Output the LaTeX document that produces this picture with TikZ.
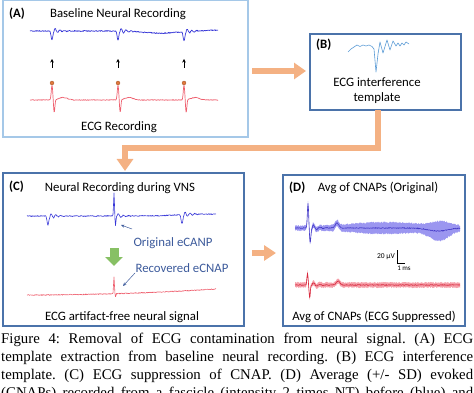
\documentclass[tikz,border=0pt]{standalone}
\usepackage{fontspec}
\setmainfont{Carlito}
\newfontfamily\capfont{Liberation Serif}
\usetikzlibrary{arrows.meta}
\definecolor{boxAc}{RGB}{165,200,232}
\definecolor{boxc}{RGB}{75,115,170}
\definecolor{orangeA}{RGB}{244,177,131}
\definecolor{greenA}{RGB}{135,192,100}
\definecolor{trblue}{RGB}{55,55,215}
\definecolor{trred}{RGB}{238,95,110}
\definecolor{tplblue}{RGB}{91,155,213}
\definecolor{annot}{RGB}{60,90,155}
\definecolor{bandblue}{RGB}{155,150,240}
\definecolor{bandred}{RGB}{245,160,170}
\definecolor{lineblue}{RGB}{70,60,200}
\definecolor{linered}{RGB}{215,40,60}
\definecolor{dotor}{RGB}{225,120,60}
\begin{document}
\frenchspacing
\begin{tikzpicture}[x=1pt,y=-1pt,
  declare function={
    g(\t)=exp(-1*(min(abs(\t),6))*(min(abs(\t),6)));
    osc(\t,\p,\d)=(\t>0)*sin(\t*\p)*exp(-min(\t*(\t>0),40)/\d);
    ecg(\t)=-15*g(\t/1.0)+13*g((\t-2.2)/0.9)-2.5*g((\t-11)/6);
    nsp(\t)=9*g(\t/1.2)-3*osc(\t-2,75,6);
    cDb(\x)=228-25*g((\x-308)/0.9)+15*g((\x-310.2)/0.9)-4*osc(\x-312,55,5)-5*g((\x-337)/2.5)+3*g((\x-438)/14);
    wDb(\x)=2.2+3.5*g((\x-385)/45)+7*g((\x-440)/13);
    cDr(\x)=285-12*g((\x-307.5)/0.8)+13*g((\x-309.7)/0.8)-3*osc(\x-312,55,5)-4*g((\x-338)/2.5);
  },
  box/.style={draw=boxc, line width=1.5pt, inner sep=0pt},
  lbl/.style={font=\fontsize{12.8}{15}\selectfont, inner sep=0pt},
  tag/.style={font=\fontsize{12.8}{15}\selectfont\bfseries, inner sep=0pt, anchor=west},
  oarrow/.style={draw=orangeA, line width=5.5pt, line join=miter, -{Triangle[length=12pt,width=16pt]}},
  trace/.style={line width=0.7pt, line join=round},
  dot/.style={circle, fill=dotor, draw=dotor!70!black, line width=0.3pt, minimum size=4pt, inner sep=0pt},
  blkarrow/.style={draw=black, line width=0.7pt, -{Stealth[length=3.5pt,width=3.5pt]}},
  annarrow/.style={draw=annot, line width=0.5pt, -{Stealth[length=3.5pt,width=3pt]}},
  capline/.style={font=\capfont\fontsize{14.8}{18}\selectfont, inner sep=0pt, anchor=base west},
]
\useasboundingbox (0,0) rectangle (474,393);
\pgfmathsetseed{11}

% ---------- boxes
\node[box, draw=boxAc, minimum width=245pt, minimum height=137pt] (A) at (125.5,68.5) {};
\node[box, minimum width=151pt, minimum height=76pt] (B) at (385.5,72) {};
\node[box, minimum width=241pt, minimum height=153pt] (C) at (123.5,249.5) {};
\node[box, minimum width=182pt, minimum height=151pt] (D) at (374,250.5) {};

% ---------- panel A
\node[tag] (tA) at (9,14) {(A)};
\node[lbl] (tA1) at (118,14) {Baseline Neural Recording};
\draw[trace, trblue] plot[domain=30:218, samples=377]
  (\x,{31+2.2*g((\x-160)/22)-0.8*g((\x-215)/12)+nsp(\x-52)+nsp(\x-118)+nsp(\x-184)+0.5*rand});
\foreach \c [count=\i] in {52,118,184}{
  \coordinate (as\i) at (\c,68);
  \coordinate (ae\i) at (\c,59);
  \draw[blkarrow] (as\i) -- (ae\i);
}
\draw[trace, trred] plot[domain=30:218, samples=377]
  (\x,{100+ecg(\x-52)+ecg(\x-118)+ecg(\x-184)+0.35*rand});
\foreach \c [count=\i] in {52,118,184}{
  \node[dot] (dt\i) at (\c,83) {};
}
\node[lbl] (tA2) at (119,127) {ECG Recording};

% ---------- panel B
\node[tag] (tB) at (316,45) {(B)};
\draw[line width=0.6pt, tplblue, line join=round] plot coordinates {
 (348,52) (351,49) (354,47) (357,45) (360,46.5) (363,45) (366,46) (369,45) (372,46.5) (374,49)
 (376,72) (378,54) (380,42) (383,53) (387,40) (390,50) (393,41) (396,46) (398,43) (400,46)
 (402,43) (404,45) (406,42) (409,44)};
\node[lbl, align=center, font=\fontsize{12.8}{15.5}\selectfont] (tB1) at (377,90.5) {ECG interference\\template};

% ---------- arrows between panels
\coordinate (abS) at (252,71);
\coordinate (abE) at (306,71);
\draw[oarrow] (abS) -- (abE);
\coordinate (bcS) at (378,110.5);
\coordinate (bcE) at (125,171);
\draw[oarrow] (bcS) -- (378,148) -| (bcE);
\coordinate (cdS) at (252,253);
\coordinate (cdE) at (276,253);
\draw[oarrow, -{Triangle[length=12pt,width=15pt]}] (cdS) -- (cdE);

% ---------- panel C
\node[tag] (tC) at (9,187) {(C)};
\node[lbl] (tC1) at (120,188) {Neural Recording during VNS};
\draw[trace, trblue, line width=0.6pt] plot[domain=27:216, samples=379]
  (\x,{216-2*g((\x-205)/35)+nsp(\x-48)+nsp(\x-182)-23*g((\x-114)/0.6)+10*g((\x-115.5)/0.6)-2.5*osc(\x-117,70,5)+0.5*rand});
\node[lbl, text=annot] (tC2) at (173,243) {Original eCANP};
\coordinate (oc1) at (132,229);
\coordinate (ot1) at (121,225);
\draw[annarrow] (oc1) -- (ot1);
\coordinate (gS) at (114,248);
\coordinate (gE) at (114,266);
\draw[draw=greenA, line width=9pt, -{Triangle[length=9pt,width=17pt]}] (gS) -- (gE);
\node[lbl, text=annot] (tC3) at (182,268) {Recovered eCNAP};
\coordinate (oc2) at (135,273);
\coordinate (ot2) at (123,286);
\draw[annarrow] (oc2) -- (ot2);
\draw[trace, trred, line width=0.6pt] plot[domain=27:216, samples=379]
  (\x,{295-6*((\x-27)/189)*((\x-27)/189)-17*g((\x-114)/0.6)+3*g((\x-115.5)/0.6)+0.45*rand});
\node[lbl] (tC4) at (122,317) {ECG artifact-free neural signal};

% ---------- panel D
\node[tag] (tD) at (289,188) {(D)};
\node[lbl] (tD1) at (378,188) {Avg of CNAPs (Original)};
\fill[bandblue] plot[domain=295:460, samples=331] (\x,{cDb(\x)-wDb(\x)-0.8*rand})
  -- plot[domain=460:295, samples=331] (\x,{cDb(\x)+wDb(\x)+0.8*rand}) -- cycle;
\draw[trace, lineblue, line width=0.6pt] plot[domain=295:460, samples=331] (\x,{cDb(\x)+0.5*rand});
\node[font=\fontsize{7.5}{9}\selectfont, inner sep=0pt] (sb1) at (386,257) {20 µV};
\node[font=\fontsize{7}{9}\selectfont, inner sep=0pt] (sb2) at (404,268) {1 ms};
\draw[line width=0.7pt] (397,250) -- (397,263) -- (405,263);
\fill[bandred] plot[domain=295:460, samples=331] (\x,{cDr(\x)-2.4-0.7*rand})
  -- plot[domain=460:295, samples=331] (\x,{cDr(\x)+2.4+0.7*rand}) -- cycle;
\draw[trace, linered, line width=0.6pt] plot[domain=295:460, samples=331] (\x,{cDr(\x)+0.4*rand});
\node[lbl] (tD2) at (374,317) {Avg of CNAPs (ECG Suppressed)};

% ---------- caption
\node[capline] (c1) at (1,343.5) {\makebox[472pt][s]{Figure 4: Removal of ECG contamination from neural signal. (A) ECG}};
\node[capline] (c2) at (1,361.5) {\makebox[472pt][s]{template extraction from baseline neural recording. (B) ECG interference}};
\node[capline] (c3) at (1,379.5) {\makebox[472pt][s]{template. (C) ECG suppression of CNAP. (D) Average (+/- SD) evoked}};
\begin{scope}
\clip (0,0) rectangle (474,393);
\node[capline] (c4) at (1,397.5) {\makebox[472pt][s]{(CNAPs) recorded from a fascicle (intensity 2 times NT) before (blue) and}};
\end{scope}
\end{tikzpicture}
\end{document}
